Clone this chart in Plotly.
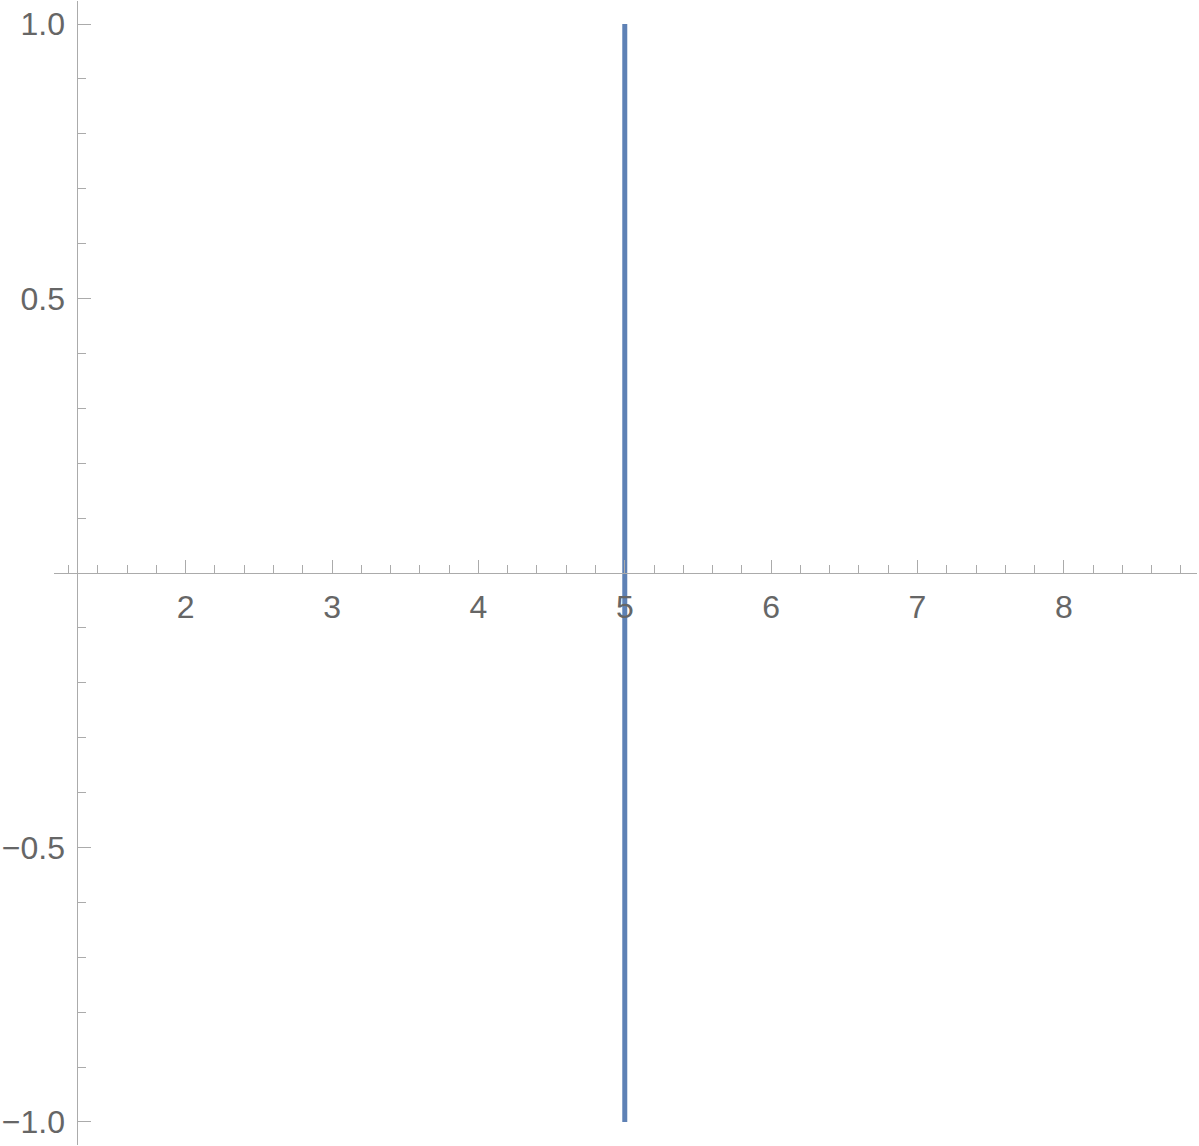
import plotly.graph_objs as go

# vertical line x = 5, y from -1 to 1
line_x = [5, 5]
line_y = [-1, 1]

x_range = [1.1, 8.91]
y_range = [-1.042, 1.042]
y_axis_at = 1.254  # where the vertical axis crosses

x_ticks = [2, 3, 4, 5, 6, 7, 8]
x_labels = ["2", "3", "4", "5", "6", "7", "8"]
y_ticks = [-1.0, -0.5, 0.0, 0.5, 1.0]
y_labels = ["\u22121.0", "\u22120.5", "", "0.5", "1.0"]

axcol = "#ababab"
font = dict(family="Liberation Sans, Arial, sans-serif", size=32, color="#666666")

trace = go.Scatter(x=line_x, y=line_y, mode="lines",
                   line=dict(color="#5E81B5", width=5), showlegend=False)

layout = go.Layout(
    width=1199, height=1146,
    margin=dict(l=54, r=2, t=1, b=1),
    paper_bgcolor="white", plot_bgcolor="white",
    xaxis=dict(range=x_range, domain=[0, 1], anchor="free",
               position=(0 - y_range[0]) / (y_range[1] - y_range[0]),
               showgrid=False, zeroline=False, showline=True,
               linecolor=axcol, linewidth=1.3,
               tickmode="array", tickvals=x_ticks, ticktext=x_labels,
               ticks="inside", ticklen=13, tickwidth=1.3, tickcolor=axcol,
               minor=dict(dtick=0.2, tick0=0, ticks="inside", ticklen=8,
                          tickwidth=1, tickcolor=axcol, showgrid=False),
               tickfont=font, automargin=False, ticklabelstandoff=5),
    yaxis=dict(range=y_range, domain=[0, 1], anchor="free",
               position=(y_axis_at - x_range[0]) / (x_range[1] - x_range[0]),
               showgrid=False, zeroline=False, showline=True,
               linecolor=axcol, linewidth=1.3,
               tickmode="array", tickvals=y_ticks, ticktext=y_labels,
               ticks="inside", ticklen=13, tickwidth=1.3, tickcolor=axcol,
               minor=dict(dtick=0.1, tick0=0, ticks="inside", ticklen=8,
                          tickwidth=1, tickcolor=axcol, showgrid=False),
               tickfont=font, automargin=False, ticklabelstandoff=5),
)

fig = go.Figure(data=[trace], layout=layout)
fig.write_html("out.html", config={"displayModeBar": False},
               post_script="document.body.style.margin='0px';")
